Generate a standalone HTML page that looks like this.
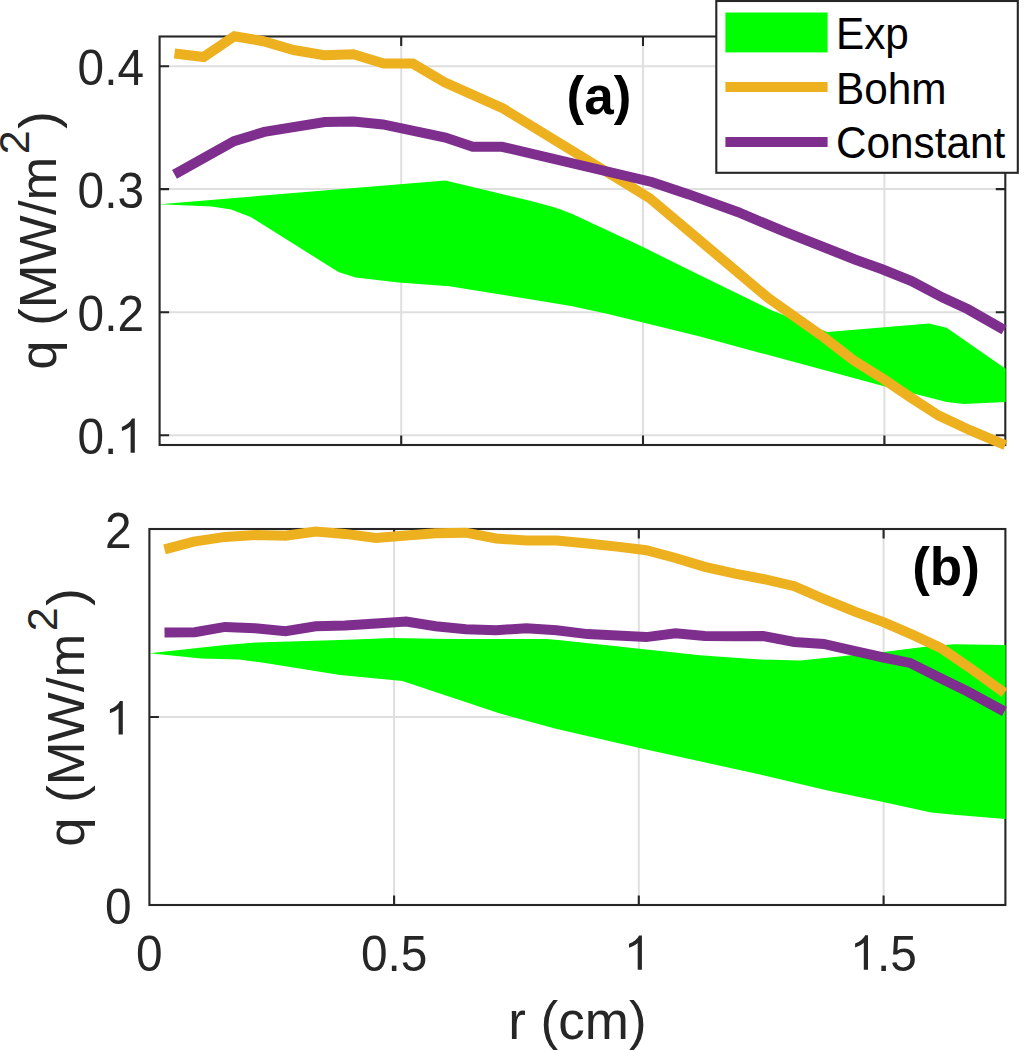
<!DOCTYPE html>
<html><head><meta charset="utf-8"><style>
html,body{margin:0;padding:0;background:#fff;}
body{width:1025px;height:1050px;overflow:hidden;}
svg{display:block;}
</style></head><body>
<svg width="1025" height="1050" viewBox="0 0 1025 1050">
<rect width="1025" height="1050" fill="#fff"/>
<line x1="401.2" y1="36.5" x2="401.2" y2="445.0" stroke="#dfdfdf" stroke-width="2"/>
<line x1="643.0" y1="36.5" x2="643.0" y2="445.0" stroke="#dfdfdf" stroke-width="2"/>
<line x1="884.4" y1="36.5" x2="884.4" y2="445.0" stroke="#dfdfdf" stroke-width="2"/>
<line x1="159.6" y1="66.2" x2="1005.3" y2="66.2" stroke="#dfdfdf" stroke-width="2"/>
<line x1="159.6" y1="189.1" x2="1005.3" y2="189.1" stroke="#dfdfdf" stroke-width="2"/>
<line x1="159.6" y1="312.2" x2="1005.3" y2="312.2" stroke="#dfdfdf" stroke-width="2"/>
<line x1="159.6" y1="435.2" x2="1005.3" y2="435.2" stroke="#dfdfdf" stroke-width="2"/>
<rect x="159.6" y="36.5" width="845.7" height="408.5" fill="none" stroke="#262626" stroke-width="2.1"/>
<path d="M401.2 445.0V435.5M401.2 36.5V46.0M643.0 445.0V435.5M643.0 36.5V46.0M884.4 445.0V435.5M884.4 36.5V46.0M159.6 66.2H169.1M1005.3 66.2H995.8M159.6 189.1H169.1M1005.3 189.1H995.8M159.6 312.2H169.1M1005.3 312.2H995.8M159.6 435.2H169.1M1005.3 435.2H995.8" stroke="#262626" stroke-width="2.1" fill="none"/>
<line x1="394.1" y1="529.0" x2="394.1" y2="905.0" stroke="#dfdfdf" stroke-width="2"/>
<line x1="638.8" y1="529.0" x2="638.8" y2="905.0" stroke="#dfdfdf" stroke-width="2"/>
<line x1="883.6" y1="529.0" x2="883.6" y2="905.0" stroke="#dfdfdf" stroke-width="2"/>
<line x1="149.4" y1="717.0" x2="1005.4" y2="717.0" stroke="#dfdfdf" stroke-width="2"/>
<rect x="149.4" y="529.0" width="856.0" height="376.0" fill="none" stroke="#262626" stroke-width="2.1"/>
<path d="M394.1 905.0V895.5M394.1 529.0V538.5M638.8 905.0V895.5M638.8 529.0V538.5M883.6 905.0V895.5M883.6 529.0V538.5M149.4 717.0H158.9M1005.4 717.0H995.9" stroke="#262626" stroke-width="2.1" fill="none"/>
<polygon points="159.6,204.2 445.4,180.4 530.0,200.7 551.5,206.6 560.0,209.2 572.3,213.9 642.0,246.6 700.0,275.2 772.0,310.5 827.4,332.0 929.0,323.5 946.6,327.8 1005.6,368.8 1005.6,402.0 964.1,403.9 946.6,402.0 915.4,394.1 884.1,386.3 700.0,336.6 608.0,313.9 571.0,306.1 530.0,299.3 449.3,286.3 398.5,282.4 355.6,277.6 338.4,272.0 250.6,216.9 231.1,209.5 211.6,206.6 159.6,204.2" fill="#00FF00"/>
<polyline points="174.5,53.5 203.7,57.0 234.4,36.2 263.3,41.2 293.6,50.0 324.1,55.2 353.4,54.3 383.7,63.6 412.9,63.6 444.6,82.2 503.1,108.5 649.8,198.3 768.7,298.4 823.8,337.2 853.4,360.2 884.1,379.5 911.5,398.0 938.8,415.6 970.0,430.2 1005.3,445.1" fill="none" stroke="#EDB120" stroke-width="10" stroke-linejoin="miter" stroke-miterlimit="4" stroke-linecap="butt"/>
<polyline points="174.5,174.4 234.0,141.2 264.3,131.9 324.8,122.1 353.7,121.5 382.9,124.4 445.4,137.5 472.7,146.8 502.0,146.8 651.7,182.0 688.8,194.4 737.6,212.0 786.3,232.4 854.9,259.5 882.2,269.3 911.5,281.0 942.7,297.6 968.0,309.3 1004.1,329.8" fill="none" stroke="#7E2F8E" stroke-width="10" stroke-linejoin="miter" stroke-miterlimit="4" stroke-linecap="butt"/>
<polygon points="149.4,653.3 225.0,644.9 256.2,642.5 340.0,640.0 392.7,638.0 449.3,639.0 546.7,639.0 558.3,640.0 700.0,655.2 760.0,659.5 800.2,660.6 883.4,652.0 925.1,646.8 953.7,644.2 1005.6,645.0 1005.6,818.9 956.8,815.0 931.0,812.5 883.1,802.1 827.6,790.5 760.0,774.5 638.3,747.8 555.8,728.8 500.0,713.6 402.4,681.0 340.0,675.1 262.1,662.4 238.7,659.5 201.6,658.5 149.4,653.3" fill="#00FF00"/>
<polyline points="164.5,549.4 193.8,541.6 225.0,536.9 256.2,535.0 285.5,535.8 315.7,531.6 345.0,533.9 376.1,537.9 406.3,535.6 435.6,533.3 465.9,532.7 496.1,538.5 526.3,540.5 556.5,540.6 587.7,543.4 617.0,546.6 646.2,550.2 675.5,558.0 704.8,566.8 735.0,573.7 763.2,579.0 794.4,586.2 823.7,599.0 854.9,611.7 884.1,622.4 913.4,635.1 941.2,648.1 969.3,667.5 1004.4,692.8" fill="none" stroke="#EDB120" stroke-width="10" stroke-linejoin="miter" stroke-miterlimit="4" stroke-linecap="butt"/>
<polyline points="164.5,632.6 194.8,632.2 225.0,626.9 255.2,628.3 285.5,631.2 315.7,626.3 345.0,625.4 376.1,623.4 406.3,621.5 435.6,626.3 465.9,629.3 496.1,630.2 526.3,628.3 556.5,630.2 587.7,634.1 617.0,635.5 646.2,637.1 675.5,633.2 704.8,636.0 735.0,636.3 763.2,636.1 794.4,642.0 823.7,643.9 852.9,650.7 883.4,657.5 910.0,662.9 939.6,677.8 967.7,691.5 1004.4,711.5" fill="none" stroke="#7E2F8E" stroke-width="10" stroke-linejoin="miter" stroke-miterlimit="4" stroke-linecap="butt"/>
<g font-family="Liberation Sans, sans-serif" font-size="47.8" fill="#262626">
<text transform="translate(144.0,84.9) scale(1,1.04)" text-anchor="end">0.4</text>
<text transform="translate(144.0,207.79999999999998) scale(1,1.04)" text-anchor="end">0.3</text>
<text transform="translate(144.0,330.9) scale(1,1.04)" text-anchor="end">0.2</text>
<text transform="translate(144.0,453.7) scale(1,1.04)" text-anchor="end">0.<tspan fill="transparent">4</tspan></text>
<path d="M134.8,452.8V418.6H132.0C130.3,422.1 126.8,425.1 121.9,426.9V431.0C125.3,429.8 128.3,428.1 130.6,426.2V452.8Z" fill="#262626"/>
<text transform="translate(131.5,547.7) scale(1,1.04)" text-anchor="end">2</text>
<text transform="translate(131.5,923.7) scale(1,1.04)" text-anchor="end">0</text>
<path d="M122.8,734.5V700.9H120.0C118.3,704.4 114.8,707.4 109.9,709.2V713.3C113.3,712.1 116.3,710.4 118.6,708.5V734.5Z" fill="#262626"/>
<text transform="translate(149.4,971.0) scale(1,1.04)" text-anchor="middle">0</text>
<text transform="translate(394.1,971.0) scale(1,1.04)" text-anchor="middle">0.5</text>
<text transform="translate(883.6,971.0) scale(1,1.04)" text-anchor="middle"><tspan fill="transparent">1</tspan>.5</text>
<path d="M641.9,969.7V935.4H639.1C637.4,938.9 633.9,941.9 629.0,943.7V947.8C632.4,946.6 635.4,944.9 637.7,943.0V969.7Z" fill="#262626"/>
<path d="M868.0,969.8V935.2H865.2C863.5,938.7 860.0,941.7 855.1,943.5V947.6C858.5,946.4 861.5,944.7 863.8,942.8V969.8Z" fill="#262626"/>
</g>
<g font-family="Liberation Sans, sans-serif" font-size="53" fill="#262626">
<text x="577.4" y="1039.3" text-anchor="middle">r (cm)</text>
<text transform="translate(55.8,240.5) rotate(-90)" x="0" y="0" text-anchor="middle" font-size="52.5">q (MW/m<tspan font-size="43" dx="2.5" dy="-27">2</tspan><tspan dx="1.5" dy="27">)</tspan></text>
<text transform="translate(84.0,717.5) rotate(-90)" x="0" y="0" text-anchor="middle" font-size="52.5">q (MW/m<tspan font-size="43" dx="2.5" dy="-27">2</tspan><tspan dx="1.5" dy="27">)</tspan></text>
</g>
<g font-family="Liberation Sans, sans-serif" font-size="53" font-weight="bold" fill="#000">
<text x="599" y="113.5" text-anchor="middle">(a)</text>
<text x="946" y="585" text-anchor="middle">(b)</text>
</g>
<rect x="716.3" y="1" width="301.5" height="171.8" fill="#fff" stroke="#262626" stroke-width="2.1"/>
<rect x="725.4" y="12.5" width="102.2" height="39.9" fill="#00FF00"/>
<line x1="725.4" y1="87" x2="827.6" y2="87" stroke="#EDB120" stroke-width="10"/>
<line x1="725.4" y1="142" x2="827.6" y2="142" stroke="#7E2F8E" stroke-width="10"/>
<g font-family="Liberation Sans, sans-serif" font-size="42.3" fill="#000">
<text transform="translate(836,49) scale(1,1.06)">Exp</text>
<text transform="translate(836,104) scale(1,1.06)">Bohm</text>
<text transform="translate(836,158) scale(1,1.06)">Constant</text>
</g>
</svg>
</body></html>
